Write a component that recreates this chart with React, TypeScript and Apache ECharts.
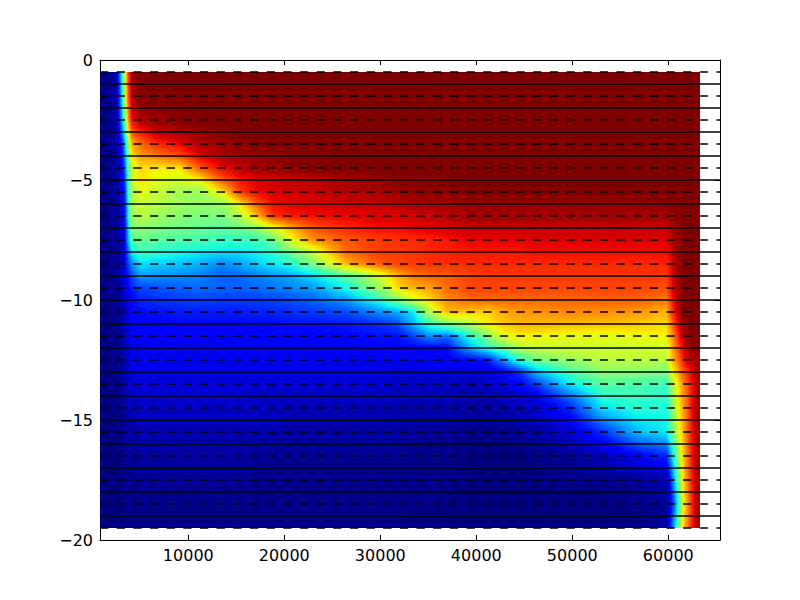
import React, { useEffect, useRef } from "react";
import * as echarts from "echarts";

const xTicks = [10000, 20000, 30000, 40000, 50000, 60000];
const solidLevels = [-1, -2, -3, -4, -5, -6, -7, -8, -9, -10, -11, -12, -13, -14, -15, -16, -17, -18, -19];
const dashedLevels = [-0.5, -1.5, -2.5, -3.5, -4.5, -5.5, -6.5, -7.5, -8.5, -9.5, -10.5, -11.5, -12.5, -13.5, -14.5, -15.5, -16.5, -17.5, -18.5, -19.5];
const columns = [800, 2500, 2800, 3100, 3400, 3700, 4100, 5000, 6700, 9100, 11200, 13600, 15400, 17200, 18800, 20600, 23000, 26500, 30000, 31800, 33400, 35200, 37000, 39400, 41100, 42800, 44600, 46300, 49800, 53200, 56700, 59800, 60100, 60500, 60900, 61300, 61700, 62100, 62500, 62900, 63300];
const depths = [-0.5, -1.5, -2.5, -3, -3.5, -4, -4.5, -5, -5.5, -6, -6.5, -7, -7.5, -8, -8.5, -9, -9.5, -10, -10.5, -11, -11.5, -12, -12.5, -13, -13.5, -14, -14.5, -15.5, -16.5, -17.5, -18.5, -19.5];

const d005 = [0,3,20,38,60,82,97, 100,100,100,100, 100,100,100,100, 100,100,100,100, 100,100,100,100, 100,100,100,100, 100,100,100,100, 100,100,100,100,100,100,100,100,100,100];
const d015 = [0,3,18,36,58,80,96, 100,100,100,100, 100,100,100,100, 100,100,100,100, 100,100,100,100, 100,100,100,100, 100,100,100,100, 100,100,100,100,100,100,100,100,100,100];
const d025 = [0,3,15,30,48,72,90, 96,98,99,100, 100,100,100,100, 100,100,100,100, 100,100,100,100, 100,100,100,100, 100,100,100,100, 100,100,100,100,100,100,100,100,100,100];
const d030 = [0,3,12,24,40,62,82, 88,95,97,98, 99,100,100,100, 100,100,100,100, 100,100,100,100, 100,100,100,100, 100,100,100,100, 100,100,100,100,100,100,100,100,100,100];
const d035 = [0,3,8,15,30,50,72, 80,87,91,96, 98,99,100,100, 100,100,100,100, 100,100,100,100, 100,100,100,100, 100,100,100,100, 100,100,100,100,100,100,100,100,100,100];
const d040 = [0,3,7,13,26,46,66, 74,78,83,92, 96,97,98,98, 99,99,100,100, 100,100,100,100, 100,100,100,100, 100,100,100,100, 100,100,100,100,100,100,100,100,100,100];
const d045 = [0,2,6,12,22,42,60, 68,66,67,82, 91,95,97,98, 99,100,100,100, 100,100,100,100, 100,100,100,100, 100,100,100,100, 100,100,100,100,100,100,100,100,100,100];
const d050 = [0,2,5,11,19,40,58, 67,63,60,66, 82,89,92,93, 94,95,97,98, 99,99,99,100, 100,100,100,100, 100,100,100,100, 100,100,100,100,100,100,100,100,100,100];
const d055 = [0,2,5,10,16,38,55, 63,59,55,53, 67,85,91,92, 93,94,96,97, 98,99,99,99, 100,100,100,100, 100,100,100,100, 100,100,100,100,100,100,100,100,100,100];
const d060 = [0,2,4,9,15,37,55, 60,57,54,53, 53,66,82,90, 91,92,93,94, 95,96,97,97, 98,98,98,98, 98,98,98,98, 99,99,99,99,100,100,100,100,100,100];
const d065 = [0,2,4,8,14,35,55, 57,55,52,50, 50,57,72,86, 89,90,91,92, 92,93,94,95, 97,97,97,97, 97,97,97,97, 97,97,98,99,99,99,99,99,99,99];
const d070 = [0,2,4,7,13,31,50, 52,50,48,47, 46,48,52,62, 72,82,87,90, 90,91,92,93, 94,94,94,94, 94,94,94,94, 94,95,97,98,99,100,100,100,100,100];
const d075 = [0,2,4,7,12,28,45, 48,46,45,44, 42,42,43,48, 62,76,82,85, 86,87,88,89, 91,91,91,91, 92,92,92,92, 92,93,96,98,99,100,100,100,100,100];
const d080 = [0,2,3,6,11,22,36, 42,40,38,36, 35,35,37,40, 48,60,80,85, 85,86,87,88, 89,89,89,89, 90,90,90,90, 90,91,95,97,99,100,100,100,100,100];
const d085 = [0,2,3,6,11,18,26, 35,33,32,30, 26,29,33,36, 39,50,72,82, 84,85,86,86, 87,87,87,87, 87,87,87,87, 87,89,94,97,99,100,100,100,100,100];
const d090 = [0,2,3,5,9,14,20, 28,27,26,25, 22,23,25,27, 29,34,46,60, 72,78,80,81, 84,85,85,85, 85,85,85,85, 85,88,93,97,99,100,100,100,100,100];
const d095 = [0,2,3,5,8,11,15, 19,20,22,23, 22,22,23,24, 26,28,38,55, 68,72,74,80, 84,84,84,84, 84,84,84,84, 83,87,92,96,98,100,100,100,100,100];
const d100 = [0,1,3,4,7,10,13, 16,17,18,19, 18,18,18,19, 20,22,28,40, 50,60,68,76, 80,80,80,80, 80,80,81,81, 78,83,90,95,98,100,100,100,100,100];
const d105 = [0,1,2,4,6,9,11, 13,14,15,15, 15,15,16,16, 17,18,20,27, 30,36,58,72, 70,69,73,75, 75,77,76,75, 72,78,87,93,98,100,100,100,100,100];
const d110 = [0,1,2,3,5,8,11, 12,12,13,13, 13,13,13,13, 14,14,15,17, 20,30,42,50, 57,65,70,72, 72,72,71,70, 68,74,82,89,95,98,100,100,100,100];
const d115 = [0,1,2,3,5,8,10, 11,11,11,11, 12,12,12,12, 12,12,12,14, 14,19,27,24, 40,52,63,66, 65,63,63,64, 65,70,76,85,92,97,99,100,100,100];
const d120 = [0,1,2,3,5,7,10, 10,10,10,10, 11,11,11,11, 11,11,11,12, 12,12,12,13, 30,39,48,57, 59,60,60,60, 61,67,74,81,88,93,96,98,99,99];
const d125 = [0,1,2,3,5,7,9, 10,10,10,10, 10,10,10,10, 10,10,10,10, 10,11,12,12, 12,15,27,42, 49,54,58,58, 58,65,72,77,84,90,93,95,97,98];
const d130 = [0,1,2,3,4,6,8, 9,9,9,9, 9,9,9,9, 9,9,9,9, 8,8,8,8, 8,9,11,18, 31,44,52,52, 50,57,65,71,78,84,88,92,96,98];
const d135 = [0,1,2,3,4,6,7, 8,8,8,8, 8,8,8,8, 8,7,7,7, 6,6,6,6, 5,6,8,12, 19,36,46,44, 42,50,58,64,72,78,84,90,95,98];
const d140 = [0,1,1,2,3,5,6, 7,7,7,7, 7,7,6,6, 6,6,6,6, 5,5,5,5, 4,4,5,7, 10,24,40,42, 40,47,55,63,71,77,83,90,95,98];
const d145 = [0,1,1,2,3,4,5, 6,6,6,6, 6,6,6,6, 5,5,5,5, 4,4,4,4, 3,3,4,5, 7,16,35,39, 38,44,52,62,70,76,83,91,96,98];
const d155 = [0,0,1,1,2,3,3, 4,4,4,4, 4,4,4,4, 3,3,3,3, 3,2,2,2, 1,1,1,2, 3,7,17,31, 36,42,50,58,67,75,83,90,95,98];
const d165 = [0,0,1,1,1,2,2, 3,3,3,3, 3,3,2,2, 2,2,2,2, 2,1,1,1, 0,0,0,0, 1,2,5,11, 16,24,36,48,62,72,81,90,95,98];
const d175 = [0,0,0,1,1,1,1, 2,2,2,2, 2,2,1,1, 1,1,1,1, 1,1,1,1, 0,0,0,0, 0,1,1,2, 4,11,26,42,58,72,80,89,95,98];
const d185 = [0,0,0,0,1,1,1, 1,1,1,1, 1,1,1,1, 1,1,1,1, 1,1,1,0, 0,0,0,0, 0,0,0,1, 2,7,18,33,52,68,78,88,95,98];
const d195 = [0,0,0,0,0,1,1, 1,1,1,1, 1,1,1,1, 1,1,1,1, 1,0,0,0, 0,0,0,0, 0,0,0,0, 3,11,26,42,58,72,80,89,95,98];

const rows = [d005, d015, d025, d030, d035, d040, d045, d050, d055, d060, d065, d070, d075, d080, d085, d090, d095, d100, d105, d110, d115, d120, d125, d130, d135, d140, d145, d155, d165, d175, d185, d195];

const ramp = (v: number, pts: number[][]) => {
  for (let i = 1; i < pts.length; i++) {
    if (v <= pts[i][0]) {
      const t = (v - pts[i - 1][0]) / (pts[i][0] - pts[i - 1][0]);
      return pts[i - 1][1] + t * (pts[i][1] - pts[i - 1][1]);
    }
  }
  return pts[pts.length - 1][1];
};
const jet = (pct: number) => {
  const v = Math.max(0, Math.min(1, pct / 100));
  const r = ramp(v, [[0, 0], [0.35, 0], [0.66, 1], [0.89, 1], [1, 0.5]]);
  const g = ramp(v, [[0, 0], [0.125, 0], [0.375, 1], [0.64, 1], [0.91, 0], [1, 0]]);
  const b = ramp(v, [[0, 0.5], [0.11, 1], [0.34, 1], [0.65, 0], [1, 0]]);
  return `rgb(${Math.round(r * 255)},${Math.round(g * 255)},${Math.round(b * 255)})`;
};

const xMin = 800;
const xMax = 65385;
const span = columns[columns.length - 1] - columns[0];

const stopsFor = (vals: number[]) => {
  const stops: { offset: number; color: string }[] = [];
  for (let i = 0; i < vals.length - 1; i++) {
    const n = Math.max(1, Math.min(6, Math.ceil(Math.abs(vals[i + 1] - vals[i]) / 6)));
    for (let k = 0; k < n; k++) {
      const t = k / n;
      stops.push({
        offset: (columns[i] + t * (columns[i + 1] - columns[i]) - columns[0]) / span,
        color: jet(vals[i] + t * (vals[i + 1] - vals[i])),
      });
    }
  }
  stops.push({ offset: 1, color: jet(vals[vals.length - 1]) });
  return stops;
};

const renderBand = (params: any, api: any) => {
  const i = params.dataIndex;
  const a = rows[i];
  const b = rows[i + 1];
  const top = api.coord([columns[0], depths[i]]);
  const bottom = api.coord([columns[columns.length - 1], depths[i + 1]]);
  const bands = Math.max(1, Math.round((bottom[1] - top[1]) / 2));
  const h = (bottom[1] - top[1]) / bands;
  const children: any[] = [];
  for (let k = 0; k < bands; k++) {
    const t = (k + 0.5) / bands;
    const vals = a.map((v, j) => v + t * (b[j] - v));
    children.push({
      type: "rect",
      shape: { x: top[0], y: top[1] + k * h, width: bottom[0] - top[0], height: k === bands - 1 ? h : h + 0.6 },
      style: { fill: new echarts.graphic.LinearGradient(0, 0, 1, 0, stopsFor(vals)) },
      silent: true,
    });
  }
  return { type: "group", children };
};

const levelSeries = (level: number, dashed: boolean) => ({
  type: "line",
  data: [[xMin, level], [xMax, level]],
  showSymbol: false,
  silent: true,
  z: 3,
  lineStyle: { color: "#000", width: 1.4, type: dashed ? [8.33, 8.33] : "solid" },
});

const lineStyle = { color: "#000", width: 1 };
const font = { color: "#000", fontSize: 16, fontFamily: "DejaVu Sans" };

export default function App() {
  const ref = useRef<HTMLDivElement>(null);
  useEffect(() => {
    document.body.style.margin = "0";
    const chart = echarts.init(ref.current!, null, { renderer: "svg" });
    const xBase = {
      type: "value",
      min: xMin,
      max: xMax,
      splitLine: { show: false },
      axisLine: { show: true, onZero: false, lineStyle },
      axisTick: { show: true, inside: true, length: 5, lineStyle, customValues: xTicks },
    };
    const yBase = {
      type: "value",
      min: -20,
      max: 0,
      interval: 5,
      splitLine: { show: false },
      axisLine: { show: true, onZero: false, lineStyle },
      axisTick: { show: true, inside: true, length: 5, lineStyle },
    };
    chart.setOption({
      animation: false,
      backgroundColor: "#fff",
      grid: { left: 100, top: 60, width: 620, height: 480, containLabel: false },
      xAxis: [
        { ...xBase, position: "bottom", axisLabel: { ...font, margin: 7, customValues: xTicks, formatter: (v: number) => String(v) } },
        { ...xBase, position: "top", axisLabel: { show: false } },
      ],
      yAxis: [
        { ...yBase, position: "left", axisLabel: { ...font, margin: 7, padding: [0, 0, 2, 0], formatter: (v: number) => String(v).replace("-", "\u2212") } },
        { ...yBase, position: "right", axisLabel: { show: false } },
      ],
      series: [
        {
          type: "custom",
          renderItem: renderBand,
          clip: false,
          silent: true,
          z: 1,
          encode: { x: 0, y: 1 },
          data: rows.slice(0, -1).map((_, i) => [columns[0], depths[i]]),
        },
        ...solidLevels.map((l) => levelSeries(l, false)),
        ...dashedLevels.map((l) => levelSeries(l, true)),
      ],
    });
    return () => chart.dispose();
  }, []);
  return <div ref={ref} style={{ width: 800, height: 600 }} />;
}
